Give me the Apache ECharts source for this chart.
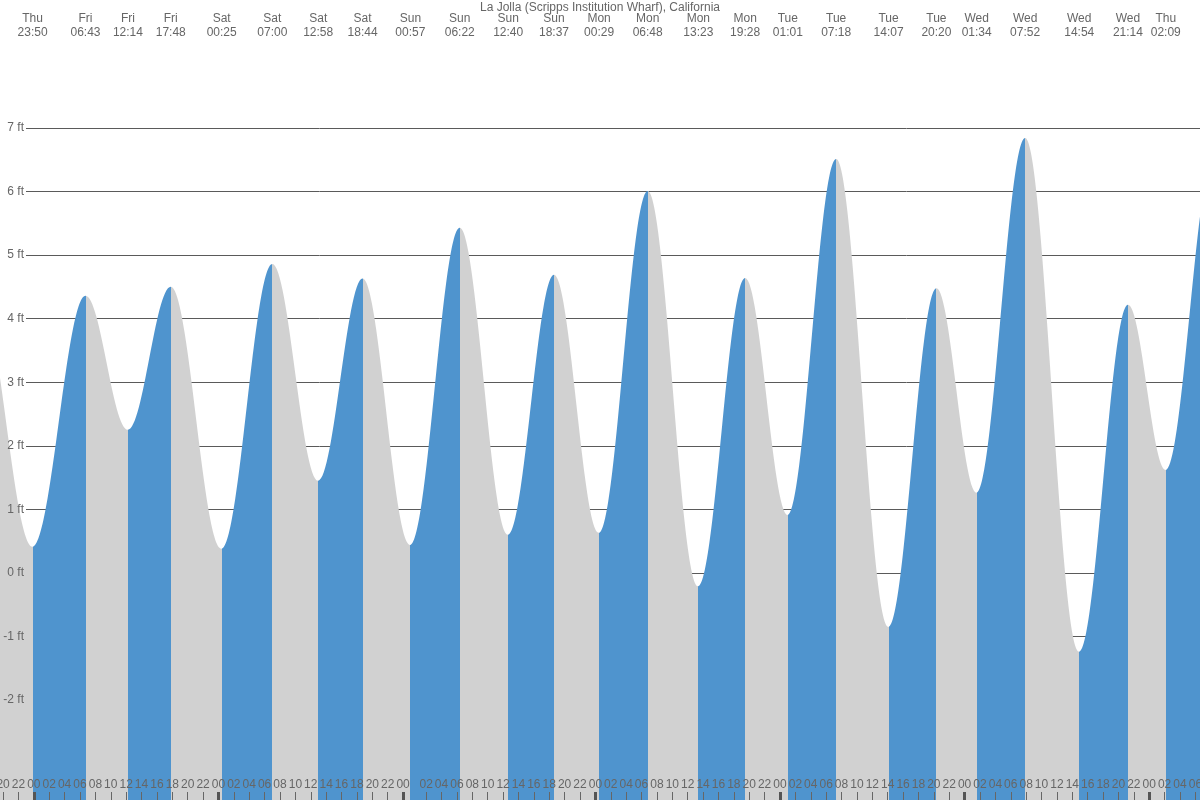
<!DOCTYPE html>
<html>
<head>
<meta charset="utf-8">
<script src="https://cdn.jsdelivr.net/npm/echarts@6/dist/echarts.min.js"></script>
<style>
html,body{margin:0;padding:0;background:#fff;}
#c{width:1200px;height:800px;}
</style>
</head>
<body>
<div id="c"></div>
<script>
// ---------------- data ----------------
const stationTitle = 'La Jolla (Scripps Institution Wharf), California';

// Tide extremes in local wall-clock time (the first two and last two lie outside the view)
const extremeDays = ['Thu','Thu','Thu','Fri','Fri','Fri','Sat','Sat','Sat','Sat','Sun','Sun','Sun','Sun',
  'Mon','Mon','Mon','Mon','Tue','Tue','Tue','Tue','Wed','Wed','Wed','Wed','Thu','Thu','Thu'];
const extremeTimes = ['11:20','17:00','23:50','06:43','12:14','17:48','00:25','07:00','12:58','18:44','00:57','06:22','12:40','18:37',
  '00:29','06:48','13:23','19:28','01:01','07:18','14:07','20:20','01:34','07:52','14:54','21:14','02:09','08:20','15:30'];
const extremeHeights = [2.00, 4.30, 0.41, 4.36, 2.25, 4.50, 0.38, 4.86, 1.45, 4.63, 0.44, 5.43, 0.60, 4.69,
  0.63, 6.01, -0.21, 4.64, 0.91, 6.51, -0.85, 4.48, 1.26, 6.84, -1.24, 4.22, 1.62, 6.50, -1.30];

// Axis scales (hours since Fri 00:00 PDT, elapsed time; feet)
const viewStartHour = -4.40;
const viewEndHour = 151.60;
const dstFallBackWallHour = 49;          // Sun 01:00 PDT -> clocks go back one hour
const firstTickWallHour = -4;
const lastTickWallHour = 150;
const heightTicksFt = [-2, -1, 0, 1, 2, 3, 4, 5, 6, 7];
const heightMinFt = -3.573;
const heightMaxFt = 9.013;

const risingColor = '#4f94ce';
const fallingColor = '#d1d1d1';

// ---------------- derived ----------------
function wallToReal(w) { return w >= dstFallBackWallHour ? w + 1 : w; }

let dayIdx = -1;
const extremeReal = extremeDays.map((d, i) => {
  if (i > 0 && d !== extremeDays[i - 1]) dayIdx++;
  const [hh, mm] = extremeTimes[i].split(':').map(Number);
  return wallToReal(dayIdx * 24 + hh + mm / 60);
});

const seriesData = extremeReal.map((t, i) => [t, extremeHeights[i]]);

const pieces = [];
for (let i = 0; i < extremeReal.length - 1; i++) {
  pieces.push({
    gte: extremeReal[i], lt: extremeReal[i + 1],
    color: extremeHeights[i + 1] > extremeHeights[i] ? risingColor : fallingColor
  });
}

const hourTickReal = [];
const hourTickLabel = {};
const midnightReal = [];
for (let w = firstTickWallHour; w <= lastTickWallHour; w += 2) {
  const r = wallToReal(w);
  if (r < viewStartHour || r > viewEndHour) continue;
  hourTickReal.push(r);
  const hh = ((w % 24) + 24) % 24;
  hourTickLabel[r] = (hh < 10 ? '0' : '') + hh;
  if (hh === 0) midnightReal.push(r);
}

const topLabelReal = extremeReal.filter(t => t >= viewStartHour && t <= viewEndHour);
function topLabelFormatter(v) {
  let best = 0, bd = Infinity;
  extremeReal.forEach((t, i) => { const d = Math.abs(t - v); if (d < bd) { bd = d; best = i; } });
  return extremeDays[best] + '\n' + extremeTimes[best];
}
function hourLabelFormatter(v) {
  let best = null, bd = Infinity;
  hourTickReal.forEach(t => { const d = Math.abs(t - v); if (d < bd) { bd = d; best = t; } });
  return hourTickLabel[best];
}

const font = "'Liberation Sans', Arial, sans-serif";
const textColor = '#666666';

const xBase = { type: 'value', min: viewStartHour, max: viewEndHour, splitLine: { show: false },
  axisLine: { show: false, onZero: false } };
const yBase = { type: 'value', min: heightMinFt, max: heightMaxFt,
  axisLine: { show: false, onZero: false } };

const option = {
  animation: false,
  textStyle: { fontFamily: font },
  title: {
    text: stationTitle, left: 'center', top: 0, padding: [1, 0, 0, 0],
    textStyle: { fontSize: 12, fontWeight: 'normal', color: textColor, fontFamily: font, lineHeight: 14 }
  },
  grid: [
    { left: 0, right: 0, top: 0, bottom: 0, show: false, containLabel: false, outerBoundsMode: 'none' },
    { left: 26, right: 0, top: 0, bottom: 0, show: false, containLabel: false, outerBoundsMode: 'none' }
  ],
  xAxis: [
    Object.assign({}, xBase, {
      gridIndex: 0, position: 'bottom', z: 10,
      axisTick: { show: true, inside: true, length: 8, customValues: hourTickReal, lineStyle: { color: '#666', width: 1 } },
      axisLabel: { show: true, inside: true, margin: 9, customValues: hourTickReal, formatter: hourLabelFormatter,
        fontSize: 12, lineHeight: 12, color: textColor, fontFamily: font, hideOverlap: false }
    }),
    Object.assign({}, xBase, {
      gridIndex: 0, position: 'bottom', z: 11,
      axisTick: { show: true, inside: true, length: 8, customValues: midnightReal, lineStyle: { color: '#555', width: 3 } },
      axisLabel: { show: false }
    }),
    Object.assign({}, xBase, {
      gridIndex: 0, position: 'top', z: 10,
      axisTick: { show: false, customValues: topLabelReal },
      axisLabel: { show: true, inside: true, margin: 12, customValues: topLabelReal, formatter: topLabelFormatter,
        fontSize: 12, lineHeight: 13.5, color: textColor, fontFamily: font, hideOverlap: false }
    }),
    Object.assign({}, xBase, { gridIndex: 1, show: false })
  ],
  yAxis: [
    Object.assign({}, yBase, { gridIndex: 0, show: false, splitLine: { show: false } }),
    Object.assign({}, yBase, {
      gridIndex: 1, position: 'left', z: 0,
      axisTick: { show: false, customValues: heightTicksFt },
      axisLabel: { show: false, customValues: heightTicksFt },
      splitLine: { show: true, lineStyle: { color: '#5a5a5a', width: 1 } }
    }),
    Object.assign({}, yBase, {
      gridIndex: 1, position: 'left', z: 10,
      axisTick: { show: false, customValues: heightTicksFt },
      axisLabel: { show: true, margin: 2, customValues: heightTicksFt, formatter: v => v + ' ft',
        fontSize: 12, color: textColor, fontFamily: font, padding: [5, 0, 0, 0] },
      splitLine: { show: false }
    })
  ],
  visualMap: {
    type: 'piecewise', show: false, seriesIndex: 0, dimension: 0, pieces: pieces
  },
  series: [{
    type: 'line', xAxisIndex: 0, yAxisIndex: 0, z: 2,
    data: seriesData,
    smooth: 0.36, smoothMonotone: 'x',
    showSymbol: false, symbol: 'none', silent: true,
    lineStyle: { width: 0 },
    areaStyle: { opacity: 1, origin: 'start' }
  }]
};

const chart = echarts.init(document.getElementById('c'));
chart.setOption(option);
</script>
</body>
</html>
